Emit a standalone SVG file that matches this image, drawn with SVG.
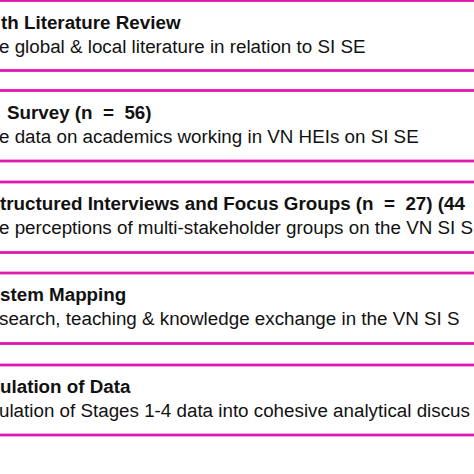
<svg xmlns="http://www.w3.org/2000/svg" width="474" height="474" viewBox="0 0 474 474">
<style>
.box{fill:#ffffff;stroke:#e018b2;stroke-width:2.8}
.t{font-family:"Liberation Sans",Arial,Helvetica,sans-serif;font-weight:bold;font-size:18.8px;fill:#111;white-space:pre}
.b{font-family:"Liberation Sans",Arial,Helvetica,sans-serif;font-size:18.8px;fill:#111;white-space:pre}
</style>
<rect x="0" y="0" width="474" height="474" fill="#ffffff"/>
<g id="stage1">
<rect class="box" x="-10" y="0.5" width="494" height="70"/>
<text class="t" x="1" y="28.5">th Literature Review</text>
<text class="b" x="-1" y="52.5">e global &amp; local literature in relation to SI SE</text>
</g>
<g id="stage2">
<rect class="box" x="-10" y="90.5" width="494" height="70.5"/>
<text class="t" x="7" y="118.5">Survey (n  =  56)</text>
<text class="b" x="-1" y="142.5">e data on academics working in VN HEIs on SI SE</text>
</g>
<g id="stage3">
<rect class="box" x="-10" y="182" width="494" height="70.5"/>
<text class="t" x="0" y="210">tructured Interviews and Focus Groups (n  =  27) (44</text>
<text class="b" x="-1" y="234">e perceptions of multi-stakeholder groups on the VN SI S</text>
</g>
<g id="stage4">
<rect class="box" x="-10" y="273" width="494" height="70.5"/>
<text class="t" x="0" y="301">stem Mapping</text>
<text class="b" x="-1" y="325">search, teaching &amp; knowledge exchange in the VN SI S</text>
</g>
<g id="stage5">
<rect class="box" x="-10" y="365" width="494" height="70"/>
<text class="t" x="0" y="393">ulation of Data</text>
<text class="b" x="-1" y="417">ulation of Stages 1-4 data into cohesive analytical discus</text>
</g>
</svg>
